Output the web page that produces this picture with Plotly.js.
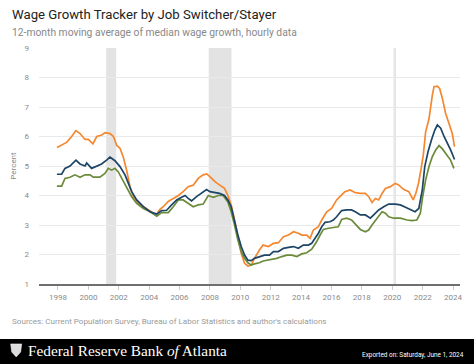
<!DOCTYPE html>
<html><head><meta charset="utf-8">
<script src="https://cdn.plot.ly/plotly-3.0.1.min.js"></script>
<style>html,body{margin:0;padding:0;background:#fff}#chart{width:474px;height:364px}</style>
</head><body><div id="chart"></div>
<script>
// ---- data (decimal years, percent) ----
const switcherX = [1997.93,1998.24,1998.57,1998.90,1999.18,1999.45,1999.78,2000.00,2000.30,2000.55,2000.88,2001.10,2001.43,2001.65,2001.86,2002.08,2002.30,2002.52,2002.74,2002.96,2003.29,2003.62,2003.95,2004.28,2004.50,2004.71,2004.93,2005.26,2005.59,2005.92,2006.24,2006.57,2006.90,2007.23,2007.56,2007.78,2008.00,2008.33,2008.63,2008.96,2009.18,2009.40,2009.62,2009.84,2010.06,2010.28,2010.50,2010.72,2010.93,2011.26,2011.50,2011.85,2012.18,2012.51,2012.84,2013.17,2013.50,2013.82,2014.04,2014.37,2014.59,2014.81,2015.14,2015.36,2015.69,2016.01,2016.34,2016.67,2016.89,2017.22,2017.54,2017.90,2018.23,2018.45,2018.67,2018.89,2019.11,2019.33,2019.55,2019.88,2020.20,2020.42,2020.76,2021.09,2021.38,2021.55,2021.72,2021.90,2022.05,2022.20,2022.42,2022.64,2022.75,2022.97,2023.12,2023.30,2023.51,2023.73,2023.95,2024.10];
const switcherY = [5.63,5.70,5.80,6.00,6.20,6.10,5.90,5.90,5.75,6.00,6.05,6.13,6.10,6.00,5.70,5.60,5.30,4.85,4.30,3.96,3.73,3.62,3.50,3.40,3.37,3.53,3.62,3.80,3.90,4.00,4.13,4.30,4.35,4.58,4.70,4.73,4.64,4.47,4.36,4.24,4.00,3.68,3.17,2.60,2.04,1.70,1.61,1.64,1.87,2.15,2.32,2.27,2.38,2.40,2.60,2.66,2.77,2.72,2.66,2.66,2.55,2.83,2.94,3.17,3.45,3.56,3.85,4.02,4.13,4.19,4.10,4.07,4.07,3.96,3.76,3.90,3.85,4.07,4.24,4.30,4.41,4.36,4.20,4.13,3.85,4.07,4.40,4.90,5.40,6.16,6.60,7.40,7.69,7.71,7.63,7.29,6.79,6.45,6.10,5.66];

const overallX = [1997.93,1998.24,1998.46,1998.79,1999.18,1999.45,1999.78,1999.89,2000.21,2000.54,2000.87,2001.20,2001.42,2001.75,2002.08,2002.41,2002.63,2002.85,2003.18,2003.62,2004.06,2004.50,2004.82,2005.15,2005.48,2005.81,2006.14,2006.36,2006.57,2006.79,2007.12,2007.45,2007.78,2008.00,2008.30,2008.63,2008.96,2009.18,2009.40,2009.62,2009.84,2010.06,2010.28,2010.50,2010.72,2010.93,2011.26,2011.59,2011.92,2012.18,2012.51,2012.84,2013.17,2013.50,2013.82,2014.15,2014.48,2014.70,2014.92,2015.14,2015.36,2015.58,2015.90,2016.12,2016.34,2016.67,2017.00,2017.32,2017.57,2017.90,2018.23,2018.56,2018.78,2019.11,2019.44,2019.77,2020.20,2020.53,2020.87,2021.20,2021.50,2021.75,2021.98,2022.14,2022.36,2022.58,2022.80,2022.97,2023.19,2023.41,2023.63,2023.85,2024.10];
const overallY = [4.72,4.72,4.92,5.00,5.20,5.07,5.00,5.10,4.92,5.00,5.07,5.20,5.30,5.18,4.98,4.70,4.41,4.13,3.85,3.62,3.45,3.37,3.49,3.50,3.68,3.85,3.94,4.00,3.90,3.82,3.96,4.07,4.20,4.13,4.10,4.07,4.00,3.85,3.62,3.11,2.66,2.27,1.98,1.81,1.79,1.87,1.93,1.98,1.98,2.10,2.10,2.21,2.24,2.27,2.21,2.32,2.32,2.38,2.55,2.72,2.94,3.09,3.11,3.17,3.28,3.49,3.51,3.51,3.45,3.34,3.34,3.23,3.34,3.51,3.62,3.71,3.71,3.68,3.60,3.53,3.45,3.56,4.20,4.98,5.49,5.88,6.22,6.39,6.28,6.00,5.77,5.54,5.22];

const stayerX = [1997.93,1998.24,1998.46,1998.79,1999.12,1999.45,1999.78,2000.11,2000.32,2000.76,2001.09,2001.31,2001.53,2001.75,2001.97,2002.19,2002.52,2002.85,2003.18,2003.62,2004.06,2004.50,2004.82,2005.26,2005.59,2005.92,2006.24,2006.57,2006.90,2007.23,2007.56,2007.89,2008.22,2008.54,2008.87,2009.18,2009.40,2009.62,2009.84,2010.06,2010.28,2010.50,2010.72,2010.93,2011.26,2011.50,2011.86,2012.18,2012.40,2012.73,2013.06,2013.39,2013.72,2014.04,2014.37,2014.70,2015.03,2015.25,2015.47,2015.80,2016.12,2016.45,2016.67,2017.00,2017.32,2017.57,2017.90,2018.23,2018.45,2018.67,2019.00,2019.33,2019.55,2019.77,2020.10,2020.53,2020.98,2021.31,2021.62,2021.85,2022.00,2022.20,2022.42,2022.64,2022.86,2023.08,2023.30,2023.51,2023.84,2024.06];
const stayerY = [4.32,4.32,4.58,4.62,4.70,4.62,4.70,4.70,4.62,4.62,4.75,4.92,4.86,4.92,4.80,4.58,4.30,3.96,3.73,3.56,3.45,3.30,3.42,3.42,3.62,3.85,3.85,3.73,3.62,3.68,3.71,4.00,3.94,4.00,4.00,3.78,3.45,3.00,2.49,2.10,1.87,1.72,1.64,1.68,1.72,1.78,1.81,1.84,1.87,1.93,1.98,1.98,1.93,2.02,2.06,2.18,2.44,2.66,2.85,2.89,2.92,2.94,3.19,3.23,3.17,3.03,2.85,2.77,2.83,3.00,3.23,3.45,3.40,3.28,3.23,3.23,3.17,3.15,3.17,3.40,3.95,4.53,4.98,5.32,5.54,5.69,5.58,5.43,5.20,4.92];

const recessionStart = [2001.17, 2007.92, 2020.08];
const recessionEnd   = [2001.83, 2009.42, 2020.25];

const xTicks = [1998,2000,2002,2004,2006,2008,2010,2012,2014,2016,2018,2020,2022,2024];
const yTicks = [1,2,3,4,5,6,7,8,9];

// ---- layout helpers (pixel -> paper) ----
const W = 474, H = 364, L = 39.3, R = 460, T = 47.7, B = 284;
const px = x => (x - L) / (R - L);
const py = y => (B - y) / (B - T);

const shapes = recessionStart.map((s, i) => ({
  type: 'rect', xref: 'x', yref: 'paper', x0: s, x1: recessionEnd[i], y0: 0, y1: 1,
  fillcolor: i === 2 ? '#e6e6e6' : '#e3e3e3', line: {width: 0}, layer: 'below'
}));
shapes.push({type:'rect', xref:'paper', yref:'paper', x0: px(0), x1: px(W), y0: py(364), y1: py(339),
  fillcolor:'#000', line:{width:0}, layer:'above'});
// small shield logo
shapes.push({type:'path', xref:'paper', yref:'paper', layer:'above',
  path: `M ${px(11)},${py(344)} L ${px(22)},${py(344)} L ${px(21)},${py(352)} L ${px(16.5)},${py(357)} L ${px(12)},${py(352)} Z`,
  fillcolor:'#ddd', line:{color:'#fff', width:0.5}});

const gray = '#8a8a8a';
const annotations = [
  {text:'Wage Growth Tracker by Job Switcher/Stayer', x:px(10), y:py(14), xref:'paper', yref:'paper', xanchor:'left', yanchor:'middle', showarrow:false,
   font:{family:'Roboto', size:13.2, color:'#222'}},
  {text:'12-month moving average of median wage growth, hourly data', x:px(10), y:py(32), xref:'paper', yref:'paper', xanchor:'left', yanchor:'middle', showarrow:false,
   font:{family:'Roboto', size:10.3, color:'#888'}},
  {text:"Sources: Current Population Survey, Bureau of Labor Statistics and author's calculations", x:px(10), y:py(321.5), xref:'paper', yref:'paper', xanchor:'left', yanchor:'middle', showarrow:false,
   font:{family:'Roboto', size:8.1, color:'#999'}},
  {text:'Federal Reserve Bank <i>of</i> Atlanta', x:px(26), y:py(351), xref:'paper', yref:'paper', xanchor:'left', yanchor:'middle', showarrow:false,
   font:{family:'Liberation Serif', size:15.3, color:'#fff'}},
  {text:'Exported on: Saturday, June 1, 2024', x:px(466), y:py(355), xref:'paper', yref:'paper', xanchor:'right', yanchor:'middle', showarrow:false,
   font:{family:'Roboto', size:6.4, color:'#fff'}}
];

const traces = [
  {type:'scatter', mode:'lines', hoverinfo:'skip', name:'Job Switcher', x:switcherX, y:switcherY, line:{width:1.7, color:'#f5872f'}},
  {type:'scatter', mode:'lines', hoverinfo:'skip', name:'Job Stayer', x:stayerX, y:stayerY, line:{width:1.7, color:'#6b8b3b'}},
  {type:'scatter', mode:'lines', hoverinfo:'skip', name:'Overall', x:overallX, y:overallY, line:{width:1.7, color:'#1c4566'}}
];

const layout = {
  width: W, height: H, showlegend:false,
  margin:{l:L, r:W-R, t:T, b:H-B, pad:0},
  paper_bgcolor:'#fff', plot_bgcolor:'#fff',
  font:{family:'Roboto', color:gray},
  xaxis:{type:'linear', range:[1996.75, 2024.46], tickvals:xTicks, ticktext:xTicks.map(String),
    showgrid:false, zeroline:false, showline:true, linecolor:'#6f6f6f', linewidth:2,
    ticks:'outside', ticklen:4, tickcolor:'#ccc', tickwidth:1, tickfont:{size:8, color:gray}},
  yaxis:{range:[1, 9], tickvals:yTicks, showgrid:true, gridcolor:'#e9e9e9', gridwidth:1, zeroline:false,
    showline:false, ticks:'', ticklabelstandoff:9, tickfont:{size:8, color:gray},
    title:{text:'Percent', font:{size:8, color:gray}, standoff:6}},
  shapes, annotations
};
Plotly.newPlot('chart', traces, layout, {displayModeBar:false, staticPlot:true});
</script></body></html>
